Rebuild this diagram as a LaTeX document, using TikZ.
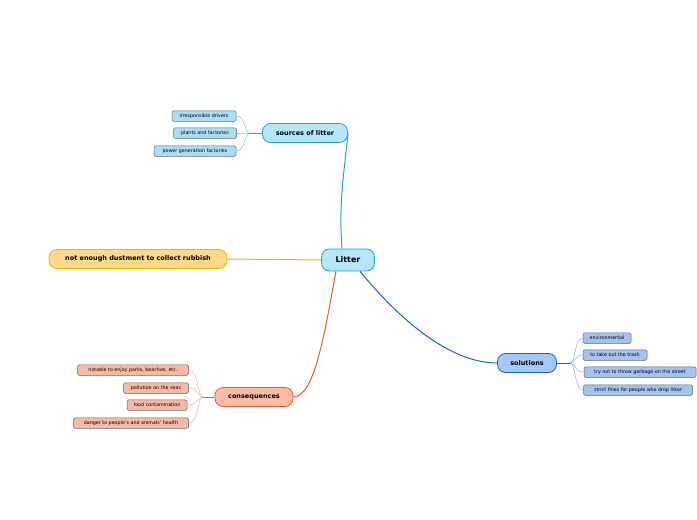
\documentclass[tikz,border=0pt]{standalone}
\usepackage{fontspec}
\setmainfont{DejaVu Sans}
\begin{document}
\begin{tikzpicture}[x=1pt,y=-1pt,
  main/.style={rounded corners=8pt,draw,line width=0.8pt,minimum height=19pt,inner sep=0pt,font=\bfseries\fontsize{6.5}{7}\selectfont},
  leaf/.style={rounded corners=1.5pt,draw=gray!80!black,line width=0.5pt,minimum height=10.5pt,inner sep=0pt,font=\fontsize{4.8}{5}\selectfont}]
\useasboundingbox (0,0) rectangle (697,520);
\definecolor{sb}{HTML}{1AA3E0}\definecolor{sf}{HTML}{B5E7FB}\definecolor{sl}{HTML}{A8DEF5}
\definecolor{ob}{HTML}{F5B400}\definecolor{of}{HTML}{FFD98A}
\definecolor{bb}{HTML}{1A5FD6}\definecolor{bf}{HTML}{A3C8FA}\definecolor{bl}{HTML}{A3C2F0}
\definecolor{rb}{HTML}{F05A24}\definecolor{rf}{HTML}{FBBBA5}\definecolor{rl}{HTML}{F7B9A5}
\node[main,draw=sb,fill=sf,minimum width=53pt,minimum height=22pt,font=\bfseries\fontsize{8}{9}\selectfont] (root) at (348,260) {Litter};
\node[main,draw=sb,fill=sf,minimum width=85pt] (src) at (305,133) {sources of litter};
\node[leaf,fill=sl,minimum width=64pt] (s1) at (204,116) {irresponsible drivers};
\node[leaf,fill=sl,minimum width=63pt] (s2) at (205,133) {plants and factories};
\node[leaf,fill=sl,minimum width=82pt] (s3) at (195,151) {power generation factories};
\node[main,draw=ob,fill=of,minimum width=178pt] (ne) at (138,259) {not enough dustment to collect rubbish};
\node[main,draw=bb,fill=bf,minimum width=59pt] (sol) at (527,363) {solutions};
\node[leaf,fill=bl,minimum width=48pt] (b1) at (607,338) {environmental};
\node[leaf,fill=bl,minimum width=64pt] (b2) at (615,355) {to take out the trash};
\node[leaf,fill=bl,minimum width=112pt] (b3) at (640,372) {try not to throw garbage on the street};
\node[leaf,fill=bl,minimum width=109pt] (b4) at (638,390) {strict fines for people who drop litter};
\node[main,draw=rb,fill=rf,minimum width=78pt] (con) at (254,397) {consequences};
\node[leaf,fill=rl,minimum width=111pt] (c1) at (133,370) {notable to enjoy parks, beaches, etc.};
\node[leaf,fill=rl,minimum width=65pt] (c2) at (156,388) {pollution on the seas};
\node[leaf,fill=rl,minimum width=60pt] (c3) at (157,405) {food contamination};
\node[leaf,fill=rl,minimum width=115pt] (c4) at (131,423) {danger to people's and animals' health};
% main connectors
\draw[sb,line width=1pt] ([xshift=-6pt]root.north) .. controls (338,200) and (346,160) .. (src.east);
\draw[ob,line width=1pt] (root.west) -- (ne.east);
\draw[bb,line width=1pt] ([xshift=12pt]root.south) .. controls (400,320) and (450,363) .. (sol.west);
\draw[rb,line width=1pt] ([xshift=-12pt]root.south) .. controls (325,330) and (315,397) .. (con.east);
% leaf connectors
\coordinate (sj) at (250,133);
\draw[sb,line width=0.8pt] (src.west) -- (sj);
\foreach \n in {s1,s2,s3} \draw[sb!60,line width=0.5pt] (sj) .. controls (244,133) and (246,0|-\n.east) .. (\n.east);
\coordinate (bj) at (570,363);
\draw[bb,line width=0.8pt] (sol.east) -- (bj);
\foreach \n in {b1,b2,b3,b4} \draw[bb!50,line width=0.5pt] (bj) .. controls (576,363) and (574,0|-\n.west) .. (\n.west);
\coordinate (cj) at (203,397);
\draw[rb,line width=0.8pt] (con.west) -- (cj);
\foreach \n in {c1,c2,c3,c4} \draw[rb!50,line width=0.5pt] (cj) .. controls (197,397) and (199,0|-\n.east) .. (\n.east);
\end{tikzpicture}
\end{document}
